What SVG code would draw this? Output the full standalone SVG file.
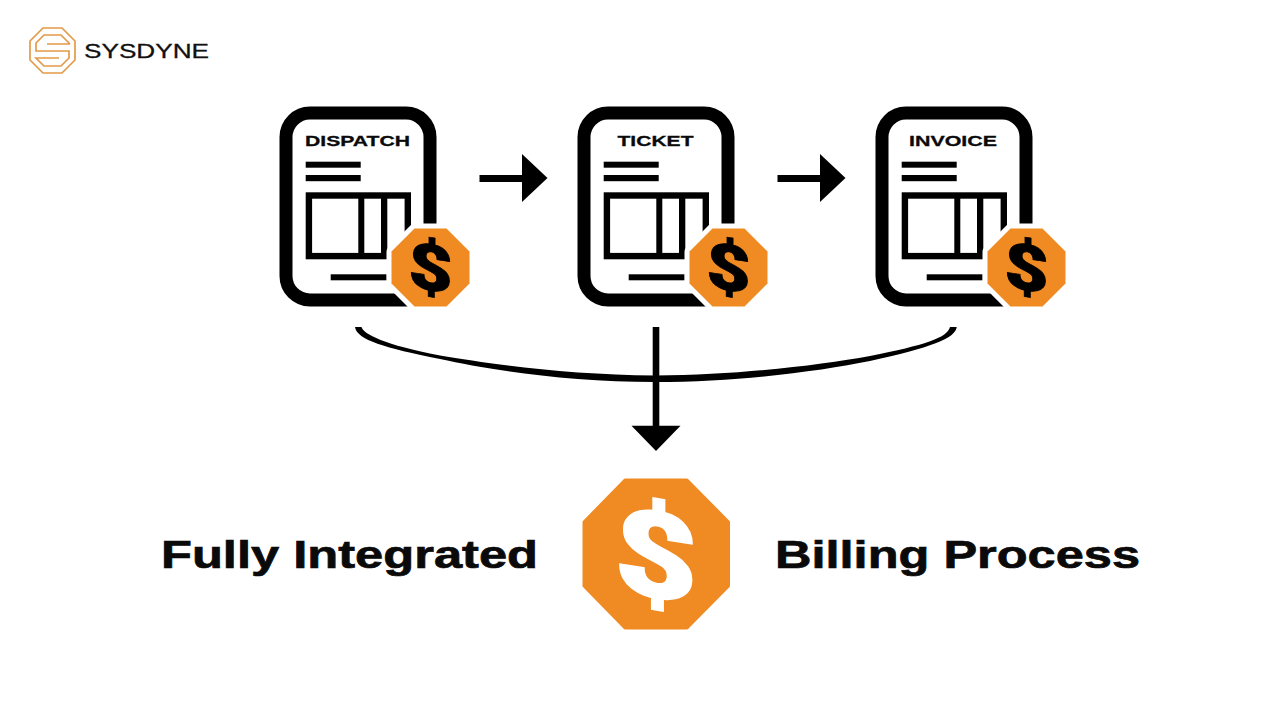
<svg xmlns="http://www.w3.org/2000/svg" xmlns:xlink="http://www.w3.org/1999/xlink" width="1280" height="720" viewBox="0 0 1280 720">
<style>
.ink{fill:#000}
.frame{fill:none;stroke:#000;stroke-width:13}
.tbl{fill:none;stroke:#000;stroke-width:6.4}
.halo{fill:#fff;stroke:#fff;stroke-width:10;stroke-linejoin:round}
.badge{fill:#EF8B22}
.doc{font-family:"Liberation Sans",sans-serif;font-weight:700;font-size:15.5px;fill:#0a0a0a;stroke:#0a0a0a;stroke-width:.3;text-anchor:middle}
.dollar{font-family:Roboto,sans-serif;font-weight:900;text-anchor:middle}
.head{font-family:"Liberation Sans",sans-serif;font-weight:700;font-size:39px;fill:#0a0a0a;stroke:#0a0a0a;stroke-width:.7}
.logo{fill:none;stroke:#E39A48;stroke-width:1.7}
</style>
<defs>
<polygon id="oct" points="-16,-39 16,-39 39,-16 39,16 16,39 -16,39 -39,16 -39,-16"/>
<g id="sheet">
<rect class="frame" x="286" y="113" width="144" height="187" rx="24"/>
<rect class="ink" x="305.7" y="161.7" width="55" height="6"/>
<rect class="ink" x="305.7" y="175" width="55" height="6.2"/>
<rect class="tbl" x="308.9" y="195.5" width="98.9" height="60.6"/>
<rect class="ink" x="358.3" y="195" width="6" height="62"/>
<rect class="ink" x="381" y="195" width="6.3" height="62"/>
<rect class="ink" x="330.7" y="274.3" width="56" height="6"/>
</g>
<g id="mark">
<use xlink:href="#oct" class="halo" x="430.5" y="267.5"/>
<use xlink:href="#oct" class="badge" x="430.5" y="267.5"/>
<text class="dollar" font-size="64" fill="#000" stroke="#000" stroke-width=".8" transform="translate(430.5 290) skewY(9) scale(1.2 1)">$</text>
</g>
</defs>
<g id="logo">
<polygon class="logo" points="43,28 62,28 75,41 75,60 62,73 43,73 30,60 30,41"/>
<path class="logo" d="M70 44H47M70 44L61 35H44L36 43V51H69V58L61 66H44L36 58H59"/>
<text x="84" y="58" font-family="'Liberation Sans',sans-serif" font-size="20.5" fill="#111" stroke="#111" stroke-width=".3" textLength="125" lengthAdjust="spacingAndGlyphs">SYSDYNE</text>
</g>
<g id="dispatch">
<use xlink:href="#sheet"/><use xlink:href="#mark"/>
<text class="doc" x="357.5" y="146" textLength="105" lengthAdjust="spacingAndGlyphs">DISPATCH</text>
</g>
<g id="ticket">
<use xlink:href="#sheet" x="298"/><use xlink:href="#mark" x="298"/>
<text class="doc" x="655.5" y="146" textLength="76" lengthAdjust="spacingAndGlyphs">TICKET</text>
</g>
<g id="invoice">
<use xlink:href="#sheet" x="596"/><use xlink:href="#mark" x="596"/>
<text class="doc" x="953" y="146" textLength="88" lengthAdjust="spacingAndGlyphs">INVOICE</text>
</g>
<g id="connectors">
<path class="ink" d="M479.5 175H522V154L547.5 178 522 202V182H479.5Z"/>
<path class="ink" d="M777.5 175H820V154L845.5 178 820 202V182H777.5Z"/>
<path class="ink" d="M355 327H361.5C363 334 385 345 440 355.5C490 364 570 375 655 375.5C740 375 820 365 870 356C925 345 947 338 950 327H956.7C956 338 930 348 870 361C820 371 740 382 655 382C570 382 490 370 440 359C385 348 357 340 355 327Z"/>
<path class="ink" d="M652.7 327H659.3V425.7H680.5L656 451 631.5 425.7H652.7Z"/>
</g>
<g id="billing">
<polygon class="badge" stroke="#EF8B22" stroke-width="3" stroke-linejoin="round" points="625,480 687,480 728.5,522 728.5,586 687,628 625,628 584,586 584,522"/>
<text class="dollar" font-size="120" fill="#fff" stroke="#fff" stroke-width="1.5" transform="translate(656 597) skewY(9) scale(1.2 1)">$</text>
</g>
<g id="caption">
<text class="head" x="161" y="567.5" textLength="377" lengthAdjust="spacingAndGlyphs">Fully Integrated</text>
<text class="head" x="775" y="567.5" textLength="365" lengthAdjust="spacingAndGlyphs">Billing Process</text>
</g>
</svg>
